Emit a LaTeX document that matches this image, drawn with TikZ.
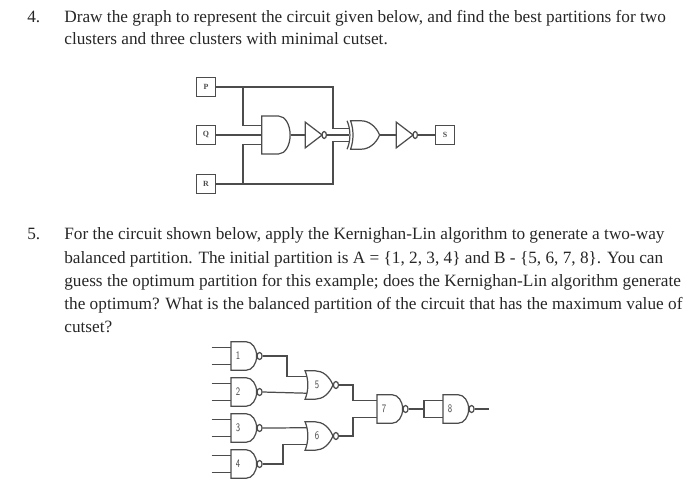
\documentclass[tikz,border=0pt]{standalone}
\usepackage{fontspec}
\setmainfont{Liberation Serif}
\usetikzlibrary{shapes.gates.logic.US}
\newcommand{\lbl}[1]{\makebox[0pt]{\hspace*{-0.28cm}#1}}
\tikzset{
    txt/.style={anchor=base west, inner sep=0pt, font=\fontsize{9.82}{12}\selectfont, text=black!85},
    pin/.style={draw=black!70, line width=0.7pt, minimum size=0.38cm, inner sep=0pt, text=black!70, font=\fontsize{4.5}{5}\selectfont\bfseries},
    gate/.style={draw=black!70, line width=0.7pt, inner sep=0pt, transform shape, logic gate inverted radius=0.07cm, text=black!70, font=\fontsize{6.5}{7}\sffamily\selectfont},
    big/.style={gate, xscale=0.72, logic gate input sep=0.166cm},
    inv/.style={gate, xscale=0.62, logic gate input sep=0.22cm},
    wire/.style={line width=0.7pt, black!70}
}
\begin{document}
\begin{tikzpicture}[x=0.02cm, y=-0.02cm]
    \useasboundingbox (0,0) rectangle (700,497);

    % Question 4
    \node[txt] (q4a) at (27,22) {4.};
    \node[txt] (q4b) at (64,22) {Draw the graph to represent the circuit given below, and find the best partitions for two};
    \node[txt] (q4c) at (64,44) {clusters and three clusters with minimal cutset.};

    % Inputs and output
    \node[pin] (P) at (206,87) {P};
    \node[pin] (Q) at (206,135) {Q};
    \node[pin] (R) at (206,184) {R};
    \node[pin] (S) at (445,135) {S};

    % Gates of the first circuit
    \node[and gate US, gate, xscale=0.6, logic gate inputs=nnn, logic gate input sep=0.13cm] (G1) at (275,135) {};
    \node[not gate US, inv] (N1) at (311,135) {};
    \node[xor gate US, gate, xscale=0.75, logic gate input sep=0.173cm] (X1) at (363,135) {};
    \node[not gate US, inv] (N2) at (402,135) {};

    % Wires of the first circuit
    \coordinate (pj) at (243,87);
    \coordinate (pc) at (333,87);
    \coordinate (rj) at (243,184);
    \coordinate (rc) at (333,184);
    \coordinate (x1a) at ([yshift=0.03cm]X1.input 1);
    \coordinate (x1b) at ([yshift=-0.03cm]X1.input 2);
    \draw[wire] (P) -- (pj) -- (pc) |- (x1a);
    \draw[wire] (pj) |- (G1.input 1);
    \draw[wire] (Q) -- (G1.input 2);
    \draw[wire] (R) -- (rj) -- (rc) |- (x1b);
    \draw[wire] (rj) |- (G1.input 3);
    \draw[wire] (G1.output) -- (N1.input);
    \draw[wire] (N1.output) -- (X1.west);
    \draw[wire] (X1.output) -- (N2.input);
    \draw[wire] (N2.output) -- (S);

    % Question 5
    \node[txt] (q5a) at (27,239) {5.};
    \node[txt] (q5b) at (64,239) {For the circuit shown below, apply the Kernighan-Lin algorithm to generate a two-way};
    \node[txt] (q5c) at (64,263) {balanced partition. The initial partition is A = \{1, 2, 3, 4\} and B - \{5, 6, 7, 8\}. You can};
    \node[txt] (q5d) at (64,286) {guess the optimum partition for this example; does the Kernighan-Lin algorithm generate};
    \node[txt] (q5e) at (64,309) {the optimum? What is the balanced partition of the circuit that has the maximum value of};
    \node[txt] (q5f) at (64,332) {cutset?};

    % Gates of the second circuit
    \node[nand gate US, big] (g1) at (243,356) {\lbl{1}};
    \node[nand gate US, big] (g2) at (243,392) {\lbl{2}};
    \node[nand gate US, big] (g3) at (243,428) {\lbl{3}};
    \node[nand gate US, big] (g4) at (243,464) {\lbl{4}};
    \node[nor gate US, big] (g5) at (317,385) {5};
    \node[nor gate US, big] (g6) at (317,436) {6};
    \node[nand gate US, big] (g7) at (389,409) {\lbl{7}};
    \node[nand gate US, big] (g8) at (455,409) {\lbl{8}};

    % Pins of the gates, a little wider apart than the anchors
    \foreach \g in {g1,g2,g3,g4,g5,g6,g7,g8} {
        \coordinate (\g a) at ([yshift=0.07cm]\g.input 1);
        \coordinate (\g b) at ([yshift=-0.07cm]\g.input 2);
    }

    % Free ends of the inputs
    \foreach \i in {1,2,3,4} {
        \coordinate (a\i) at ([xshift=-0.38cm]g\i a);
        \coordinate (b\i) at ([xshift=-0.38cm]g\i b);
        \draw[wire] (a\i) -- (g\i a);
        \draw[wire] (b\i) -- (g\i b);
    }
    \coordinate (out) at (489,409);
    \coordinate (loop) at (424,409);
    \coordinate (t15) at (287,356);
    \coordinate (t46) at (283,464);
    \coordinate (t57) at (353,385);
    \coordinate (t67) at (353,436);

    % Wires of the second circuit
    \draw[wire] (g1.output) -- (t15) |- (g5a);
    \draw[wire] (g2.output) -- (g5b);
    \draw[wire] (g3.output) -- (g6a);
    \draw[wire] (g4.output) -- (t46) |- (g6b);
    \draw[wire] (g5.output) -- (t57) |- (g7a);
    \draw[wire] (g6.output) -- (t67) |- (g7b);
    \draw[wire] (g7.output) -- (loop);
    \draw[wire] (loop) |- (g8a);
    \draw[wire] (loop) |- (g8b);
    \draw[wire] (g8.output) -- (out);
\end{tikzpicture}
\end{document}
